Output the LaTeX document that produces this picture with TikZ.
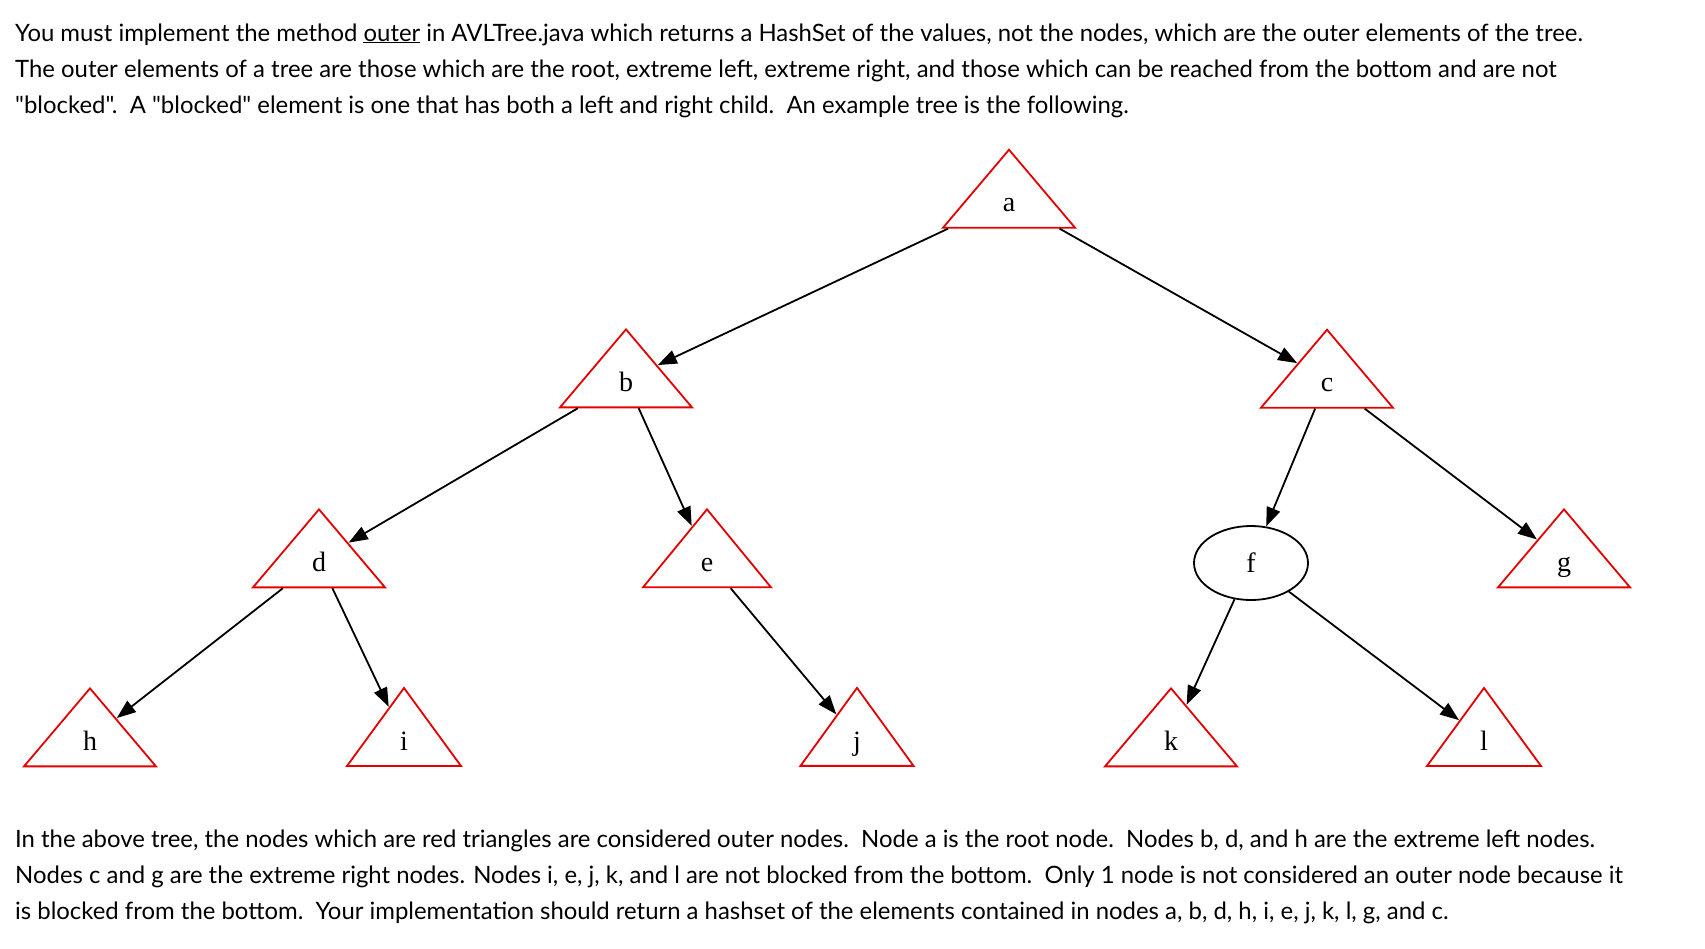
\documentclass[tikz,border=0pt]{standalone}
\usepackage{fontspec}
\setmainfont{Lato}[Ligatures=TeXOff]
\newfontfamily\serifT{Liberation Serif}
\usetikzlibrary{shapes.geometric,arrows.meta}
\newcommand{\lbl}[1]{\raisebox{-11pt}[0pt][0pt]{#1}}
\newcommand{\qq}{\symbol{34}}
\begin{document}
\begin{tikzpicture}[x=1pt,y=-1pt,
  tri/.style={draw=red!90!black,line width=1.8pt,isosceles triangle,shape border rotate=90,
    isosceles triangle stretches,minimum height=78pt,minimum width=#1,inner sep=0pt,
    font=\serifT\fontsize{28}{28}\selectfont},
  tri/.default=132pt,
  el/.style={draw,line width=1.8pt,ellipse,minimum width=114pt,minimum height=74pt,inner sep=0pt,
    font=\serifT\fontsize{28}{28}\selectfont},
  edge/.style={line width=1.8pt,-{Triangle[length=19pt,width=14pt]}},
  txt/.style={anchor=base west,inner sep=0pt,font=\fontsize{23.9}{26}\selectfont}]
\useasboundingbox (0,0) rectangle (1705,948);
\node[txt] (t1) at (15,41) {You must implement the method \underline{outer} in AVLTree.java which returns a HashSet of the values, not the nodes, which are the outer elements of the tree.};
\node[txt] (t2) at (15,77) {The outer elements of a tree are those which are the root, extreme left, extreme right, and those which can be reached from the bottom and are not};
\node[txt] (t3) at (15,113) {\qq blocked\qq.\ \ A \qq blocked\qq\ element is one that has both a left and right child.\ \ An example tree is the following.};
\node[txt] (t4) at (15,847) {In the above tree, the nodes which are red triangles are considered outer nodes.\ \ Node a is the root node.\ \ Nodes b, d, and h are the extreme left nodes.};
\node[txt] (t5) at (15,883) {Nodes c and g are the extreme right nodes. Nodes i, e, j, k, and l are not blocked from the bottom.\ \ Only 1 node is not considered an outer node because it};
\node[txt] (t6) at (15,919) {is blocked from the bottom.\ \ Your implementation should return a hashset of the elements contained in nodes a, b, d, h, i, e, j, k, l, g, and c.};

\node[tri] (a) at (1009,200) {\lbl{a}};
\node[tri] (b) at (626,380) {\lbl{b}};
\node[tri] (c) at (1327,380) {\lbl{c}};
\node[tri] (d) at (319,560) {\lbl{d}};
\node[tri=128pt] (e) at (707,560) {\lbl{e}};
\node[el] (f) at (1251,563) {f};
\node[tri] (g) at (1564,560) {\lbl{g}};
\node[tri] (h) at (90,739) {\lbl{h}};
\node[tri=114pt] (i) at (404,739) {\lbl{i}};
\node[tri=113pt] (j) at (857,739) {\lbl{j}};
\node[tri] (k) at (1171,739) {\lbl{k}};
\node[tri=114pt] (l) at (1484,739) {\lbl{l}};

\draw[edge] (a) -- (b);
\draw[edge] (a) -- (c);
\draw[edge] (b) -- (d);
\draw[edge] (b) -- (e);
\draw[edge] (c) -- (f);
\draw[edge] (c) -- (g);
\draw[edge] (d) -- (h);
\draw[edge] (d) -- (i);
\draw[edge] (e) -- (j);
\draw[edge] (f) -- (k);
\draw[edge] (f) -- (l);
\end{tikzpicture}
\end{document}
